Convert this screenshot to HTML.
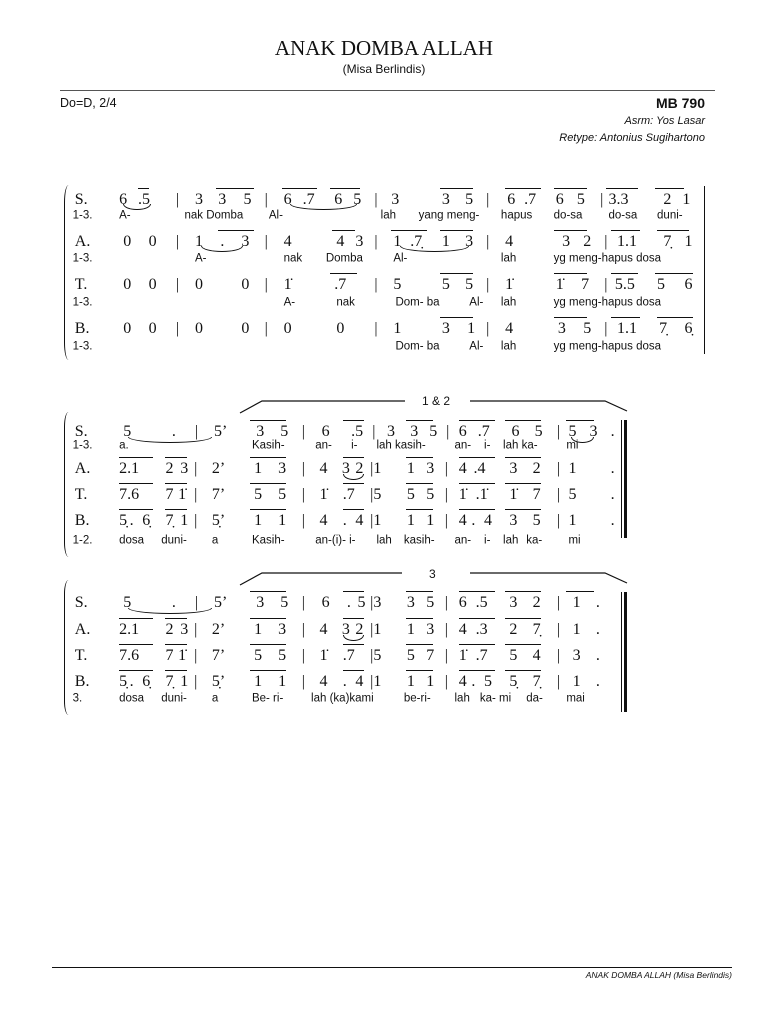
<!DOCTYPE html>
<html><head><meta charset="utf-8">
<style>
html,body{margin:0;padding:0;background:#fff;}
body{width:768px;height:1024px;position:relative;overflow:hidden;color:#111;}
.a{position:absolute;white-space:pre;line-height:1;}
.n{font-family:"Liberation Serif",serif;font-size:16px;transform:translateY(-50%);}
.l{font-family:"Liberation Sans",sans-serif;font-size:11.5px;transform:translateY(-50%);}
.bm{position:absolute;height:0;border-top:1px solid #111;}
.tie{position:absolute;border:1.2px solid #111;border-top:none;border-radius:0 0 50% 50%/0 0 100% 100%;height:5px;}
.br{position:absolute;width:8px;border-left:1.5px solid #111;border-radius:50% 0 0 50%/10% 0 0 10%;}
</style></head><body>
<div class="a" style="left:0;width:768px;top:38px;text-align:center;font-family:'Liberation Serif',serif;font-size:21px;">ANAK DOMBA ALLAH</div>
<div class="a" style="left:0;width:768px;top:63px;text-align:center;font-family:'Liberation Sans',sans-serif;font-size:12px;">(Misa Berlindis)</div>
<div style="position:absolute;left:60px;top:90px;width:655px;border-top:1px solid #555;"></div>
<div class="a" style="left:60px;top:97px;font-family:'Liberation Sans',sans-serif;font-size:12.5px;">Do=D, 2/4</div>
<div class="a" style="right:63px;top:96px;font-family:'Liberation Sans',sans-serif;font-size:14px;font-weight:bold;">MB 790</div>
<div class="a" style="right:63px;top:116px;font-family:'Liberation Sans',sans-serif;font-size:11px;font-style:italic;">Asrm: Yos Lasar</div>
<div class="a" style="right:63px;top:133px;font-family:'Liberation Sans',sans-serif;font-size:11px;font-style:italic;">Retype: Antonius Sugihartono</div>
<div style="position:absolute;left:52px;top:967px;width:680px;border-top:1.5px solid #111;"></div>
<div class="a" style="right:36px;top:971px;font-family:'Liberation Sans',sans-serif;font-size:8.5px;font-style:italic;">ANAK DOMBA ALLAH (Misa Berlindis)</div>

<div class="br" style="left:64px;top:185px;height:175px;"></div>
<div class="br" style="left:64px;top:412px;height:145px;"></div>
<div class="br" style="left:64px;top:580px;height:135px;"></div>
<div style="position:absolute;left:704px;top:186px;height:168px;border-left:1.5px solid #111;"></div>
<div style="position:absolute;left:621px;top:420px;height:118px;border-left:1px solid #111;"></div>
<div style="position:absolute;left:624px;top:420px;height:118px;border-left:3px solid #111;"></div>
<div style="position:absolute;left:621px;top:592px;height:120px;border-left:1px solid #111;"></div>
<div style="position:absolute;left:624px;top:592px;height:120px;border-left:3px solid #111;"></div>
<svg style="position:absolute;left:0;top:0" width="768" height="1024">
<g fill="none" stroke="#111" stroke-width="1.2">
<polyline points="240,413 262,401 405,401"/><polyline points="470,401 605,401 627,411"/>
<polyline points="240,585 262,573 402,573"/><polyline points="470,573 605,573 627,583"/>
</g></svg>
<div class="a l" style="left:422px;top:401px;font-size:12px;">1 &amp; 2</div>
<div class="a l" style="left:429px;top:574px;font-size:12px;">3</div>
<div id="root"></div>
<script>
const R=document.getElementById('root');
const X=z=>60+z/2.37;
function row(y,items,cls){for(const [z,t] of items){const d=document.createElement('div');d.className='a '+cls;d.style.left=X(z)+'px';d.style.top=y+'px';d.textContent=t;R.appendChild(d);}}
function beams(y,list){for(const [a,b] of list){const d=document.createElement('div');d.className='bm';d.style.left=X(a)+'px';d.style.width=(X(b)-X(a))+'px';d.style.top=y+'px';R.appendChild(d);}}
function tie(y,a,b){const d=document.createElement('div');d.className='tie';d.style.left=X(a)+'px';d.style.width=(X(b)-X(a))+'px';d.style.top=y+'px';R.appendChild(d);}
// System 1
row(200,[[35,"S."],[140,"6"],[185,".5"],[275,"|"],[320,"3"],[375,"3"],[435,"5"],[485,"|"],[530,"6"],[575,".7"],[650,"6"],[695,"5"],[745,"|"],[785,"3"],[905,"3"],[960,"5"],[1010,"|"],[1060,"6"],[1100,".7"],[1175,"6"],[1225,"5"],[1280,"|"],[1300,"3.3"],[1430,"2"],[1475,"1"]],'n');
row(216,[[30,"1-3."],[140,"A-"],[295,"nak Domba"],[495,"Al-"],[760,"lah"],[850,"yang meng-"],[1045,"hapus"],[1170,"do-sa"],[1300,"do-sa"],[1415,"duni-"]],'l');
row(242,[[35,"A."],[150,"0"],[210,"0"],[275,"|"],[320,"1"],[380,"."],[430,"3"],[485,"|"],[530,"4"],[655,"4"],[700,"3"],[745,"|"],[790,"1"],[830,".7̣"],[905,"1"],[960,"3"],[1010,"|"],[1055,"4"],[1190,"3"],[1240,"2"],[1290,"|"],[1320,"1.1"],[1430,"7̣"],[1480,"1"]],'n');
row(259,[[30,"1-3."],[320,"A-"],[530,"nak"],[630,"Domba"],[790,"Al-"],[1045,"lah"],[1170,"yg meng-hapus dosa"]],'l');
row(285,[[35,"T."],[150,"0"],[210,"0"],[275,"|"],[320,"0"],[430,"0"],[485,"|"],[530,"1̇"],[650,".7"],[745,"|"],[790,"5"],[905,"5"],[960,"5"],[1010,"|"],[1055,"1̇"],[1175,"1̇"],[1235,"7"],[1290,"|"],[1315,"5.5"],[1415,"5"],[1480,"6"]],'n');
row(303,[[30,"1-3."],[530,"A-"],[655,"nak"],[795,"Dom- ba"],[970,"Al-"],[1045,"lah"],[1170,"yg meng-hapus dosa"]],'l');
row(329,[[35,"B."],[150,"0"],[210,"0"],[275,"|"],[320,"0"],[430,"0"],[485,"|"],[530,"0"],[655,"0"],[745,"|"],[790,"1"],[905,"3"],[965,"1"],[1010,"|"],[1055,"4"],[1180,"3"],[1240,"5"],[1290,"|"],[1320,"1.1"],[1420,"7̣"],[1480,"6̣"]],'n');
row(347,[[30,"1-3."],[795,"Dom- ba"],[970,"Al-"],[1045,"lah"],[1170,"yg meng-hapus dosa"]],'l');
beams(188,[[185,210],[370,460],[525,610],[640,710],[900,980],[1055,1140],[1170,1250],[1295,1370],[1410,1480]]);
beams(230,[[375,460],[645,700],[785,870],[900,980],[1170,1250],[1305,1375],[1415,1490]]);
beams(273,[[640,705],[900,980],[1170,1250],[1305,1370],[1410,1500]]);
beams(317,[[900,980],[1170,1250],[1305,1375],[1415,1500]]);
tie(204,150,210);tie(204,545,700);tie(246,335,430);tie(246,805,965);
// System 2 & 3
const A2=[[35,"A."],[140,"2.1"],[250,"2"],[285,"3"],[318,"|"],[360,"2’"],[460,"1"],[517,"3"],[573,"|"],[615,"4"],[668,"3"],[700,"2"],[735,"|1"],[822,"1"],[868,"3"],[912,"|"],[945,"4"]];
const T2=[[35,"T."],[140,"7.6"],[250,"7"],[280,"1̇"],[318,"|"],[360,"7’"],[460,"5"],[517,"5"],[573,"|"],[615,"1̇"],[670,".7"],[735,"|5"],[822,"5"]];
const B2=[[35,"B."],[140,"5̣"],[165,"."],[195,"6̣"],[250,"7̣"],[285,"1"],[318,"|"],[360,"5̣’"],[460,"1"],[517,"1"],[573,"|"],[615,"4"],[670,"."],[700,"4"],[735,"|1"],[822,"1"],[868,"1"],[912,"|"],[945,"4"],[975,"."]];
const S2=[[35,"S."],[150,"5"],[265,"."],[320,"|"],[365,"5’"],[465,"3"],[522,"5"],[573,"|"],[620,"6"]];
row(432,S2.concat([[690,".5"],[740,"|"],[775,"3"],[830,"3"],[875,"5"],[915,"|"],[945,"6"],[990,".7"],[1070,"6"],[1125,"5"],[1178,"|"],[1205,"5"],[1255,"3"],[1305,"."]]),'n');
row(446,[[30,"1-3."],[140,"a."],[455,"Kasih-"],[605,"an-"],[690,"i-"],[750,"lah kasih-"],[935,"an-"],[1005,"i-"],[1050,"lah ka-"],[1200,"mi"]],'l');
row(469,A2.concat([[980,".4"],[1065,"3"],[1120,"2"],[1178,"|"],[1205,"1"],[1305,"."]]),'n');
row(495,T2.concat([[868,"5"],[912,"|"],[945,"1̇"],[985,".1̇"],[1065,"1̇"],[1120,"7"],[1178,"|"],[1205,"5"],[1305,"."]]),'n');
row(521,B2.concat([[1005,"4"],[1065,"3"],[1120,"5"],[1178,"|"],[1205,"1"],[1305,"."]]),'n');
row(541,[[30,"1-2."],[140,"dosa"],[240,"duni-"],[360,"a"],[455,"Kasih-"],[605,"an-(i)- i-"],[750,"lah"],[815,"kasih-"],[935,"an-"],[1005,"i-"],[1050,"lah"],[1105,"ka-"],[1205,"mi"]],'l');
row(603,S2.concat([[680,"."],[705,"5"],[735,"|3"],[822,"3"],[868,"5"],[912,"|"],[945,"6"],[985,".5"],[1065,"3"],[1120,"2"],[1178,"|"],[1215,"1"],[1270,"."]]),'n');
row(630,A2.concat([[985,".3"],[1065,"2"],[1120,"7̣"],[1178,"|"],[1215,"1"],[1270,"."]]),'n');
row(656,T2.concat([[868,"7"],[912,"|"],[945,"1̇"],[985,".7"],[1065,"5"],[1120,"4"],[1178,"|"],[1215,"3"],[1270,"."]]),'n');
row(682,B2.concat([[1005,"5"],[1065,"5̣"],[1120,"7̣"],[1178,"|"],[1215,"1"],[1270,"."]]),'n');
row(699,[[30,"3."],[140,"dosa"],[240,"duni-"],[360,"a"],[455,"Be- ri-"],[595,"lah (ka)kami"],[815,"be-ri-"],[935,"lah"],[995,"ka- mi"],[1105,"da-"],[1200,"mai"]],'l');
const bS=[[450,535],[670,720],[820,885],[945,1030],[1055,1140],[1200,1265]];
const bA=[[140,220],[250,300],[450,535],[670,720],[820,885],[945,1030],[1055,1140]];
beams(420,bS);beams(457,bA);beams(483,bA);beams(509,bA);
beams(591,bS);beams(618,bA);beams(644,bA);beams(670,bA);
tie(437,160,355);tie(437,1210,1260);tie(474,670,715);
tie(608,160,355);tie(635,670,715);
</script>
</body></html>
